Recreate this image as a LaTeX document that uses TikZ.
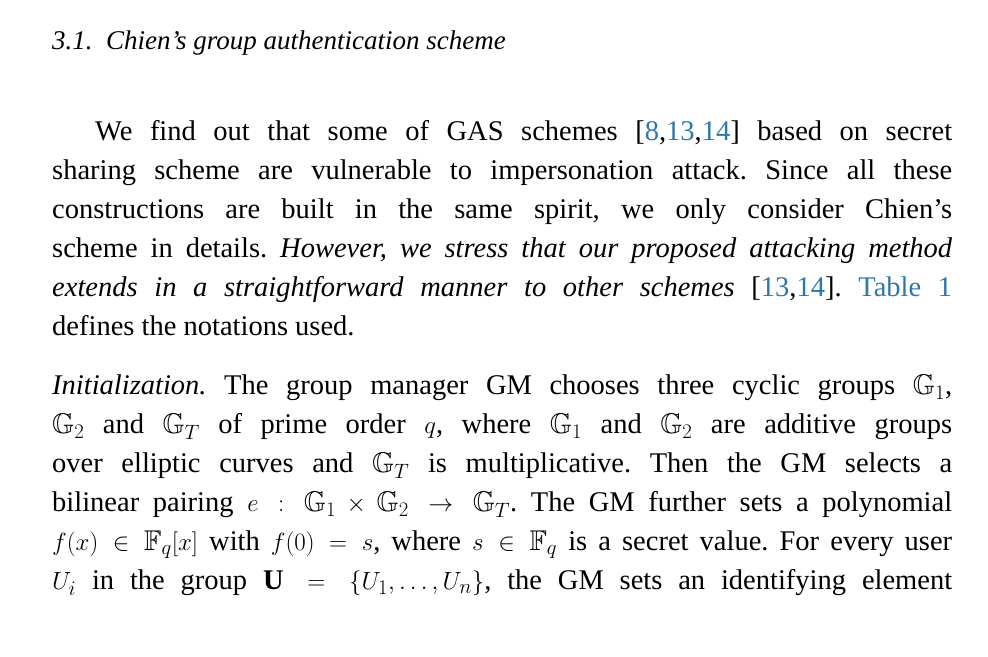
\documentclass[tikz,border=0pt]{standalone}
\usepackage{amssymb}
\usepackage{fontspec}
\setmainfont{Liberation Serif}
\definecolor{cite}{RGB}{45,120,170}
\newcommand{\cc}[1]{\textcolor{cite}{#1}}
\begin{document}
\frenchspacing
\begin{tikzpicture}[x=1pt,y=1pt,
  para/.style={anchor=north west,inner sep=0pt,text width=900pt,align=justify,font=\fontsize{28.5}{39}\selectfont}]
\useasboundingbox (0,0) rectangle (988,-656);
\node[anchor=base west,inner sep=0pt,font=\fontsize{27}{39}\selectfont\itshape] (h) at (52,-49) {3.1.\ \ Chien's group authentication scheme};
\node[para] (p1) at (52,-120) {\hspace*{43pt}We find out that some of GAS schemes [\cc{8},\cc{13},\cc{14}] based on secret\linebreak sharing scheme are vulnerable to impersonation attack. Since all these\linebreak constructions are built in the same spirit, we only consider Chien's\linebreak scheme in details. \textit{However, we stress that our proposed attacking method\linebreak extends in a straightforward manner to other schemes} [\cc{13},\cc{14}]. \cc{Table 1}\linebreak defines the notations used.};
\node[para] (p2) at (52,-375) {\textit{Initialization.} The group manager GM chooses three cyclic groups $\mathbb{G}_1$,\linebreak $\mathbb{G}_2$ and $\mathbb{G}_T$ of prime order $q$, where $\mathbb{G}_1$ and $\mathbb{G}_2$ are additive groups\linebreak over elliptic curves and $\mathbb{G}_T$ is multiplicative. Then the GM selects a\linebreak bilinear pairing $e:\mathbb{G}_1\times\mathbb{G}_2\rightarrow\mathbb{G}_T$. The GM further sets a polynomial\linebreak $f(x)\in\mathbb{F}_q[x]$ with $f(0)=s$, where $s\in\mathbb{F}_q$ is a secret value. For every user\linebreak $U_i$ in the group $\mathbf{U}=\{U_1,\ldots,U_n\}$, the GM sets an identifying element\linebreak};
\end{tikzpicture}
\end{document}
